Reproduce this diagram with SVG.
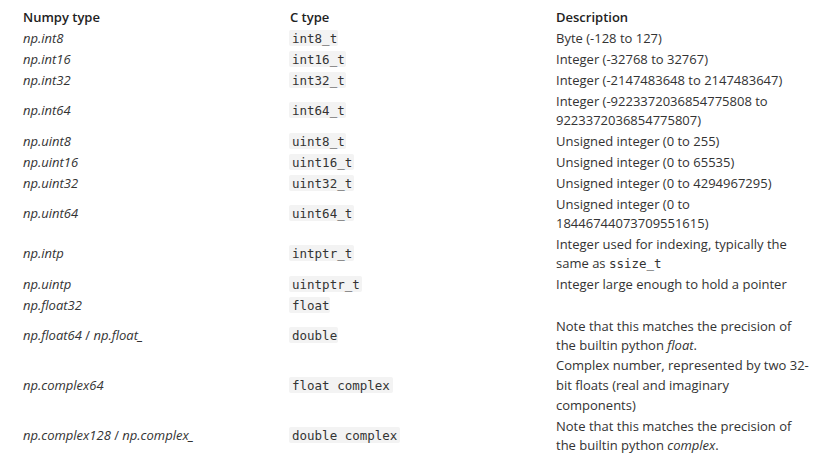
<svg xmlns="http://www.w3.org/2000/svg" width="827" height="457" viewBox="0 0 827 457">
<style>
text{font-family:"Open Sans","Noto Sans",sans-serif;font-size:13px;fill:#333}
.h{font-weight:600;fill:#222}
.n{font-style:italic}
.c{font-family:"DejaVu Sans Mono","Liberation Mono",monospace;font-size:12.5px;fill:#333}
.b{fill:#f3f3f3}
</style>
<rect width="827" height="457" fill="#fff"/>
<g id="header">
<text class="h" x="23" y="22">Numpy type</text>
<text class="h" x="290" y="22">C type</text>
<text class="h" x="556" y="22">Description</text>
</g>
<g id="numpy">
<text class="n" x="23" y="43">np.int8</text>
<text class="n" x="23" y="64">np.int16</text>
<text class="n" x="23" y="85">np.int32</text>
<text class="n" x="23" y="115">np.int64</text>
<text class="n" x="23" y="146">np.uint8</text>
<text class="n" x="23" y="167">np.uint16</text>
<text class="n" x="23" y="188">np.uint32</text>
<text class="n" x="23" y="218">np.uint64</text>
<text class="n" x="23" y="258">np.intp</text>
<text class="n" x="23" y="289">np.uintp</text>
<text class="n" x="23" y="310">np.float32</text>
<text class="n" x="23" y="340"><tspan class="n">np.float64</tspan><tspan font-style="normal"> / </tspan><tspan class="n">np.float_</tspan></text>
<text class="n" x="23" y="390">np.complex64</text>
<text class="n" x="23" y="440"><tspan class="n">np.complex128</tspan><tspan font-style="normal"> / </tspan><tspan class="n">np.complex_</tspan></text>
</g>
<g id="ctype">
<rect class="b" x="289" y="30" width="49" height="16" rx="2"/><text class="c" x="292" y="43">int8_t</text>
<rect class="b" x="289" y="51" width="57" height="16" rx="2"/><text class="c" x="292" y="64">int16_t</text>
<rect class="b" x="289" y="72" width="57" height="16" rx="2"/><text class="c" x="292" y="85">int32_t</text>
<rect class="b" x="289" y="102" width="57" height="16" rx="2"/><text class="c" x="292" y="115">int64_t</text>
<rect class="b" x="289" y="133" width="57" height="16" rx="2"/><text class="c" x="292" y="146">uint8_t</text>
<rect class="b" x="289" y="154" width="65" height="16" rx="2"/><text class="c" x="292" y="167">uint16_t</text>
<rect class="b" x="289" y="175" width="65" height="16" rx="2"/><text class="c" x="292" y="188">uint32_t</text>
<rect class="b" x="289" y="205" width="65" height="16" rx="2"/><text class="c" x="292" y="218">uint64_t</text>
<rect class="b" x="289" y="245" width="65" height="16" rx="2"/><text class="c" x="292" y="258">intptr_t</text>
<rect class="b" x="289" y="276" width="73" height="16" rx="2"/><text class="c" x="292" y="289">uintptr_t</text>
<rect class="b" x="289" y="297" width="41" height="16" rx="2"/><text class="c" x="292" y="310">float</text>
<rect class="b" x="289" y="327" width="49" height="16" rx="2"/><text class="c" x="292" y="340">double</text>
<rect class="b" x="289" y="377" width="104" height="16" rx="2"/><text class="c" x="292" y="390">float complex</text>
<rect class="b" x="289" y="427" width="111" height="16" rx="2"/><text class="c" x="292" y="440">double complex</text>
</g>
<g id="desc">
<text x="556" y="43">Byte (-128 to 127)</text>
<text x="556" y="64">Integer (-32768 to 32767)</text>
<text x="556" y="85">Integer (-2147483648 to 2147483647)</text>
<text x="556" y="106">Integer (-9223372036854775808 to</text>
<text x="556" y="125">9223372036854775807)</text>
<text x="556" y="146">Unsigned integer (0 to 255)</text>
<text x="556" y="167">Unsigned integer (0 to 65535)</text>
<text x="556" y="188">Unsigned integer (0 to 4294967295)</text>
<text x="556" y="209">Unsigned integer (0 to</text>
<text x="556" y="228">18446744073709551615)</text>
<text x="556" y="249">Integer used for indexing, typically the</text>
<text x="556" y="268">same as <tspan class="c">ssize_t</tspan></text>
<text x="556" y="289">Integer large enough to hold a pointer</text>
<text x="556" y="331">Note that this matches the precision of</text>
<text x="556" y="350">the builtin python <tspan font-style="italic">float</tspan>.</text>
<text x="556" y="370">Complex number, represented by two 32-</text>
<text x="556" y="390">bit floats (real and imaginary</text>
<text x="556" y="410">components)</text>
<text x="556" y="431">Note that this matches the precision of</text>
<text x="556" y="450">the builtin python <tspan font-style="italic">complex</tspan>.</text>
</g>
</svg>
